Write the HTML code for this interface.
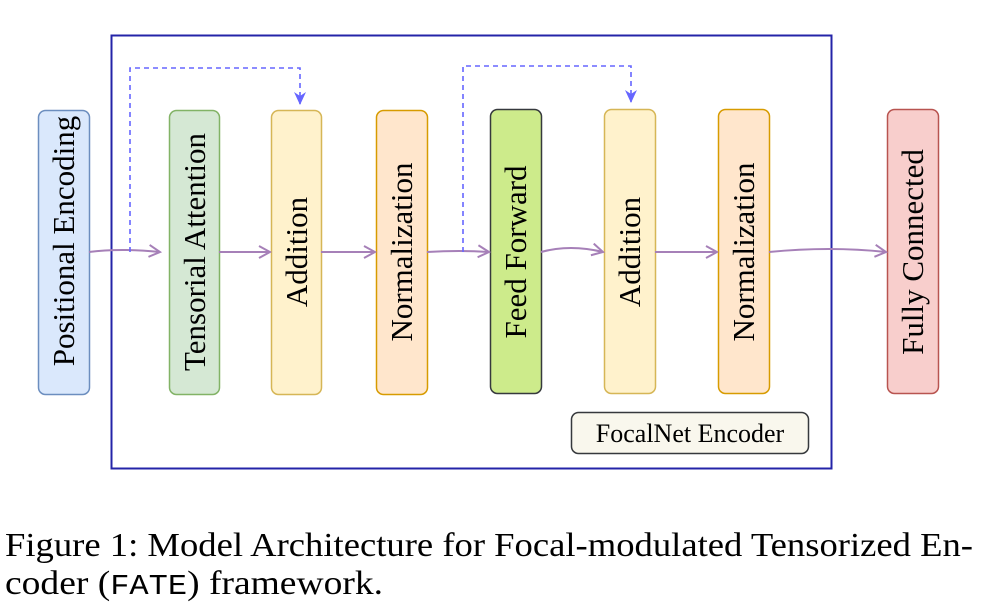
<!DOCTYPE html>
<html><head><meta charset="utf-8"><style>
body{margin:0;background:#fff;}
svg{display:block}
text{font-family:"Liberation Serif",serif;}
</style></head><body>
<svg width="988" height="614" viewBox="0 0 988 614" xmlns="http://www.w3.org/2000/svg">
<defs>
<marker id="oa" markerWidth="14" markerHeight="14" refX="12" refY="7" orient="auto" markerUnits="userSpaceOnUse">
<path d="M1,1 L12,7 L1,13" fill="none" stroke="#a680b8" stroke-width="2"/>
</marker>
<marker id="ba" markerWidth="16" markerHeight="16" refX="13" refY="7" orient="auto" markerUnits="userSpaceOnUse">
<path d="M1,1 L14,7 L1,13 L5,7 Z" fill="#6666ff"/>
</marker>
</defs>
<rect x="111.5" y="35.5" width="720" height="433" fill="none" stroke="#2424a8" stroke-width="2"/>
<g stroke-width="1.5">
<rect x="38.5" y="110.5" width="51" height="284" rx="7" fill="#dae8fc" stroke="#6c8ebf"/>
<rect x="169.5" y="110.5" width="50" height="284" rx="7" fill="#d5e8d4" stroke="#82b366"/>
<rect x="271.5" y="110.5" width="50" height="284" rx="7" fill="#fff2cc" stroke="#d6b656"/>
<rect x="376.5" y="110.5" width="51" height="284" rx="7" fill="#ffe6cc" stroke="#d79b00"/>
<rect x="490.5" y="109.5" width="51" height="284" rx="7" fill="#cdeb8b" stroke="#36393d"/>
<rect x="604.5" y="109.5" width="51" height="284" rx="7" fill="#fff2cc" stroke="#d6b656"/>
<rect x="718.5" y="109.5" width="51" height="284" rx="7" fill="#ffe6cc" stroke="#d79b00"/>
<rect x="887.5" y="109.5" width="51" height="284" rx="7" fill="#f8cecc" stroke="#b85450"/>
<rect x="571.5" y="412.5" width="237" height="41" rx="7" fill="#f9f7ed" stroke="#36393d"/>
</g>
<g font-size="31" fill="#000" text-anchor="middle">
<text transform="translate(74,241) rotate(-90)">Positional Encoding</text>
<text transform="translate(205,252) rotate(-90)">Tensorial Attention</text>
<text transform="translate(307,252) rotate(-90)">Addition</text>
<text transform="translate(412,252) rotate(-90)">Normalization</text>
<text transform="translate(526,252) rotate(-90)">Feed Forward</text>
<text transform="translate(640,252) rotate(-90)">Addition</text>
<text transform="translate(754,252) rotate(-90)">Normalization</text>
<text transform="translate(923,252) rotate(-90)">Fully Connected</text>
</g>
<text x="690" y="442" font-size="26" text-anchor="middle">FocalNet Encoder</text>
<g fill="none" stroke="#a680b8" stroke-width="2">
<path d="M89,252 Q120,248 160,252" marker-end="url(#oa)"/>
<path d="M219,252 L270,252" marker-end="url(#oa)"/>
<path d="M321,252 L375,252" marker-end="url(#oa)"/>
<path d="M427,252 Q460,250 489,252" marker-end="url(#oa)"/>
<path d="M541,252 Q570,244 603,252" marker-end="url(#oa)"/>
<path d="M655,252 L717,252" marker-end="url(#oa)"/>
<path d="M769,252 Q830,246 886,252" marker-end="url(#oa)"/>
</g>
<g fill="none" stroke="#6666ff" stroke-width="1.6" stroke-dasharray="5,4">
<path d="M130,252 L130,68 L300,68 L300,104" marker-end="url(#ba)"/>
<path d="M463,252 L463,66 L631,66 L631,102" marker-end="url(#ba)"/>
</g>
<text x="5" y="556" font-size="34" textLength="968" lengthAdjust="spacingAndGlyphs">Figure 1: Model Architecture for Focal-modulated Tensorized En-</text>
<text x="5" y="594" font-size="34" textLength="378" lengthAdjust="spacingAndGlyphs">coder (<tspan font-family="Liberation Mono,monospace" font-size="29">FATE</tspan>) framework.</text>
</svg>
</body></html>
